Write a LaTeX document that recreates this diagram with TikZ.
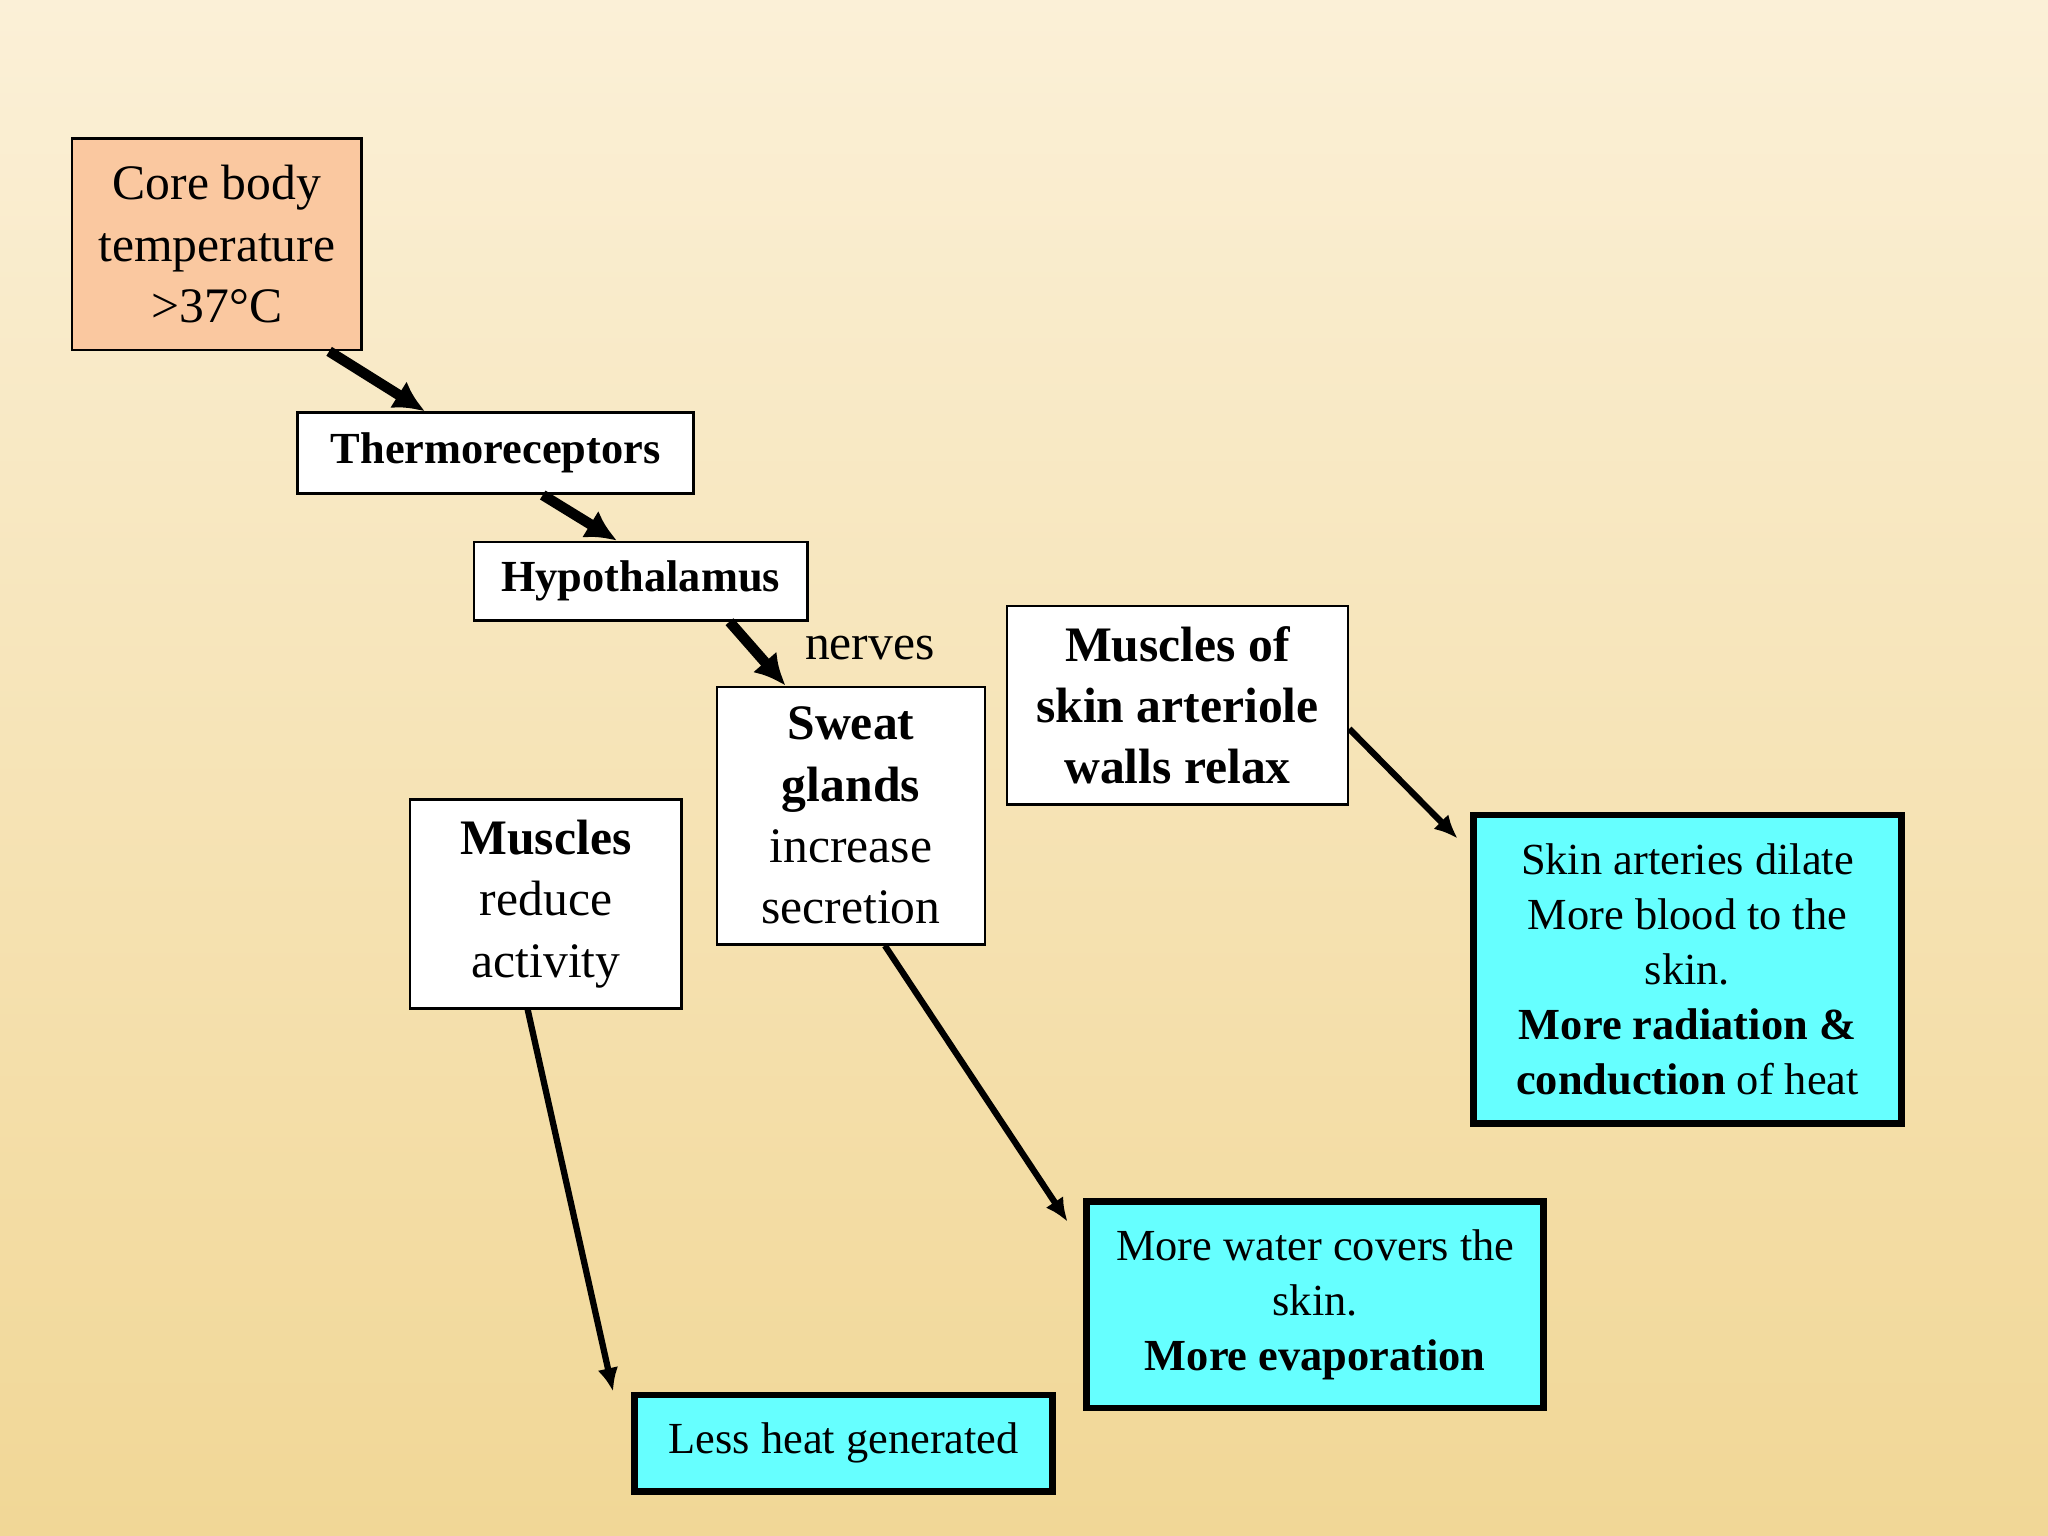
\documentclass[tikz,border=0pt]{standalone}
\usepackage{fontspec}
\setmainfont{Liberation Serif}
\usetikzlibrary{arrows.meta}
\begin{document}
\begin{tikzpicture}[x=0.5pt,y=-0.5pt,
 box/.style={draw=black,line width=1pt,fill=white,inner sep=0pt,align=center,font=\fontsize{19}{23.5}\selectfont},
 cy/.style={draw=black,line width=2.6pt,fill={rgb,255:red,102;green,255;blue,255},inner sep=0pt,align=center,font=\fontsize{17}{21}\selectfont},
 thick arr/.style={line width=4pt,-{Latex[length=12pt,width=12pt]}},
 thin arr/.style={line width=2.4pt,-{Latex[length=9pt,width=8pt]}}]
\shade[top color={rgb,255:red,251;green,240;blue,215},bottom color={rgb,255:red,241;green,215;blue,150}] (0,0) rectangle (1568,1176);
\useasboundingbox (0,0) rectangle (1568,1176);
\node[box,fill={rgb,255:red,250;green,200;blue,160},minimum width=111pt,minimum height=81pt] (core) at (166,187) {Core body\\temperature\\>37°C};
\node[box,minimum width=151.5pt,minimum height=31pt,font=\fontsize{17}{21}\selectfont\bfseries] (thermo) at (379.5,347) {Thermoreceptors};
\node[box,minimum width=127.5pt,minimum height=30pt,font=\fontsize{17}{21}\selectfont\bfseries] (hypo) at (490.5,445) {Hypothalamus};
\node[box,minimum width=102.5pt,minimum height=98.5pt] (sweat) at (651.5,624.5) {\textbf{Sweat}\\\textbf{glands}\\increase\\secretion};
\node[box,minimum width=130.5pt,minimum height=76pt,font=\fontsize{19}{23.5}\selectfont\bfseries] (art) at (901.5,540) {Muscles of\\skin arteriole\\walls relax};
\node[box,minimum width=104pt,minimum height=80pt] (mus) at (418,692) {\textbf{Muscles}\\reduce\\activity};
\node[cy,minimum width=164pt,minimum height=118pt] (skin) at (1292,742) {Skin arteries dilate\\More blood to the\\skin.\\\textbf{More radiation \&}\\\textbf{conduction} of heat};
\node[cy,minimum width=175pt,minimum height=79pt] (water) at (1007,999) {More water covers the\\skin.\\\textbf{More evaporation}};
\node[cy,minimum width=160pt,minimum height=37pt] (less) at (646,1105) {Less heat generated};
\node[font=\fontsize{19}{23.5}\selectfont] (nerves) at (666,496) {nerves};
\coordinate (skinin) at (1116,642);
\draw[thick arr] ([xshift=43pt]core.south) -- ([xshift=-27pt]thermo.north);
\draw[thick arr] ([xshift=18pt]thermo.south) -- ([xshift=-9pt]hypo.north);
\draw[thick arr] ([xshift=34pt]hypo.south) -- ([xshift=-25pt]sweat.north);
\draw[thin arr] ([yshift=-9pt]art.east) -- (skinin);
\draw[thin arr] ([xshift=13pt]sweat.south) -- ([xshift=-6pt,yshift=-9pt]water.north west);
\draw[thin arr] ([xshift=-7pt]mus.south) -- ([xshift=-7pt]less.north west);
\end{tikzpicture}
\end{document}
